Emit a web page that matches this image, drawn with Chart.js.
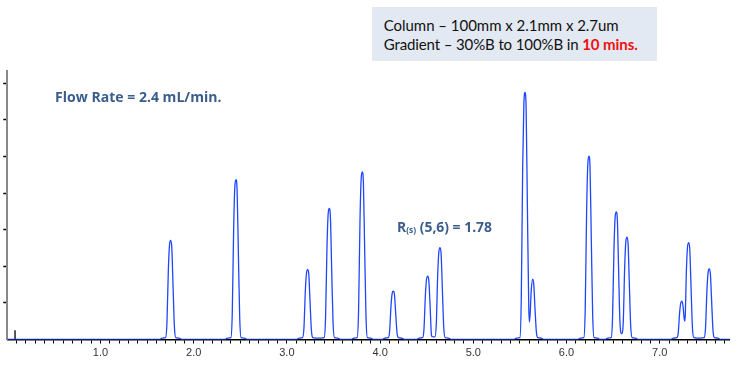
<!DOCTYPE html>
<html>
<head>
<meta charset="utf-8">
<script src="https://cdn.jsdelivr.net/npm/chart.js@4"></script>
<style>
  html, body { margin: 0; padding: 0; background: #fff; }
  #wrap { position: relative; width: 737px; height: 366px; overflow: hidden; }
  #c { position: absolute; left: 0; top: 0; }
  .note { position: absolute; white-space: nowrap; }
  #box { left: 372px; top: 7px; width: 285px; height: 54px; background: #e3e9f2; }
  #box div { position: absolute; left: 11.7px; font-family: Lato, "Open Sans", sans-serif; font-size: 15px; color: #111; line-height: 19px; white-space: nowrap; }
  .blue { font-family: "Open Sans", sans-serif; font-size: 14px; line-height: 18px; font-weight: bold; color: #3b5d8d; transform-origin: 0 50%; }
  #flow { left: 55px; top: 87.5px; }
  #rs { left: 396.7px; top: 217.5px; }
  #rs sub { font-size: 8.5px; vertical-align: -1px; }
  .red { color: #ee1111; font-weight: bold; }
</style>
</head>
<body>
<div id="wrap">
  <canvas id="c" width="737" height="366"></canvas>
  <div id="box" class="note">
    <div id="l1" style="top:8.5px">Column – 100mm x 2.1mm x 2.7um</div>
    <div style="top:27.5px"><span id="l2a">Gradient – 30%B to 100%B in </span><span id="l2b" class="red">10 mins.</span></div>
  </div>
  <div id="flow" class="note blue">Flow Rate = 2.4 mL/min.</div>
  <div id="rs" class="note blue">R<sub>(s)</sub> (5,6) = 1.78</div>
</div>
<script>
// Retention time (min) of trace points
const traceTime = [
  0.00, 1.633, 1.663, 1.698, 1.713, 1.728, 1.741, 1.753, 1.765, 1.778, 1.793, 1.808, 1.843, 1.873,
  2.334, 2.364, 2.399, 2.414, 2.429, 2.442, 2.454, 2.466, 2.479, 2.494, 2.509, 2.544, 2.574,
  3.103, 3.133, 3.168, 3.183, 3.198, 3.211, 3.223, 3.235, 3.248, 3.263, 3.278, 3.313,
  3.365, 3.400, 3.415, 3.430, 3.443, 3.455, 3.467, 3.480, 3.495, 3.510, 3.545, 3.575,
  3.689, 3.719, 3.754, 3.769, 3.784, 3.797, 3.809, 3.821, 3.834, 3.849, 3.864, 3.899, 3.929,
  4.022, 4.052, 4.087, 4.102, 4.117, 4.130, 4.142, 4.154, 4.167, 4.182, 4.197, 4.232, 4.262,
  4.391, 4.421, 4.456, 4.471, 4.486, 4.499, 4.511, 4.523, 4.536, 4.551, 4.558, 4.573, 4.588,
  4.603, 4.618, 4.631, 4.643, 4.655, 4.668, 4.683, 4.698, 4.733, 4.763,
  5.435, 5.465, 5.500, 5.515, 5.530, 5.543, 5.555, 5.567, 5.580, 5.595, 5.602, 5.610, 5.622,
  5.637, 5.649, 5.662, 5.677, 5.692, 5.727, 5.757,
  6.121, 6.151, 6.186, 6.201, 6.216, 6.229, 6.241, 6.253, 6.266, 6.281, 6.296, 6.331, 6.361,
  6.414, 6.444, 6.479, 6.494, 6.509, 6.522, 6.534, 6.546, 6.559, 6.574, 6.592, 6.609, 6.624,
  6.637, 6.649, 6.661, 6.674, 6.689, 6.704, 6.739, 6.769,
  7.119, 7.149, 7.184, 7.199, 7.214, 7.227, 7.239, 7.251, 7.262, 7.268, 7.275, 7.286, 7.299,
  7.311, 7.323, 7.336, 7.351, 7.366, 7.400, 7.440, 7.477, 7.492, 7.507, 7.520, 7.532, 7.544,
  7.557, 7.572, 7.587, 7.622, 7.652, 7.75
];
// Detector signal (arbitrary units) at those times
const traceSignal = [
  0.00, 0.00, 0.04, 0.05, 0.46, 1.90, 2.60, 2.71, 2.52, 1.49, 0.35, 0.05, 0.04, 0.00,
  0.00, 0.04, 0.05, 0.74, 3.06, 4.20, 4.37, 4.06, 2.40, 0.57, 0.05, 0.04, 0.00,
  0.00, 0.04, 0.05, 0.32, 1.34, 1.83, 1.91, 1.78, 1.05, 0.25, 0.05, 0.04,
  0.04, 0.05, 0.61, 2.51, 3.44, 3.58, 3.33, 1.97, 0.47, 0.05, 0.04, 0.00,
  0.00, 0.04, 0.05, 0.78, 3.21, 4.40, 4.58, 4.26, 2.52, 0.60, 0.05, 0.04, 0.00,
  0.00, 0.04, 0.05, 0.22, 0.92, 1.27, 1.32, 1.23, 0.73, 0.17, 0.05, 0.04, 0.00,
  0.00, 0.04, 0.05, 0.29, 1.21, 1.66, 1.73, 1.61, 0.95, 0.12, 0.08, 0.07, 0.07,
  0.43, 1.76, 2.41, 2.51, 2.33, 1.38, 0.33, 0.05, 0.04, 0.00,
  0.00, 0.04, 0.05, 1.15, 4.73, 6.48, 6.75, 6.28, 3.71, 0.90, 0.48, 0.70, 1.35,
  1.65, 1.50, 0.85, 0.20, 0.05, 0.04, 0.00,
  0.00, 0.04, 0.05, 0.85, 3.51, 4.81, 5.01, 4.66, 2.76, 0.65, 0.05, 0.04, 0.00,
  0.00, 0.04, 0.05, 0.59, 2.44, 3.35, 3.49, 3.25, 1.92, 0.45, 0.16, 0.48, 1.96,
  2.69, 2.80, 2.60, 1.54, 0.36, 0.05, 0.04, 0.00,
  0.00, 0.04, 0.05, 0.18, 0.74, 1.01, 1.05, 0.90, 0.58, 0.50, 0.70, 1.85, 2.54,
  2.65, 2.46, 1.46, 0.34, 0.05, 0.04, 0.04, 0.05, 0.33, 1.35, 1.85, 1.93, 1.79,
  1.06, 0.25, 0.05, 0.04, 0.00, 0.00
];
// Injection marker
const markerTime = [0.083, 0.083];
const markerSignal = [0.00, 0.25];
// Axis ranges and ticks
const xMin = 0, xMax = 7.75;
const xMinorStep = 0.1, xMinorCount = 77;          // minor ticks 0.1 … 7.7
const xTickLabels = ['1.0', '2.0', '3.0', '4.0', '5.0', '6.0', '7.0'];
const yMin = 0, yMax = 7.34;
const yTickValues = [1, 2, 3, 4, 5, 6, 7];

// Fit annotation text widths to the reference (styling only)
function fitSpacing(id, w) {
  const el = document.getElementById(id);
  const n = el.textContent.length;
  const cur = el.getBoundingClientRect().width;
  el.style.letterSpacing = ((w - cur) / n) + 'px';
}
function fitScale(id, w) {
  const el = document.getElementById(id);
  const cur = el.getBoundingClientRect().width;
  el.style.transform = 'scaleX(' + (w / cur) + ')';
}
fitSpacing('l1', 235);
fitSpacing('l2a', 198.5);
fitSpacing('l2b', 55.5);
fitScale('flow', 166.5);
fitScale('rs', 95);

const toXY = (xs, ys) => xs.map((x, i) => ({ x: x, y: ys[i] }));
const xTickValues = Array.from({ length: xMinorCount }, (_, i) => Math.round((i + 1) * xMinorStep * 10) / 10);

new Chart(document.getElementById('c'), {
  type: 'line',
  data: {
    datasets: [
      {
        data: toXY(traceTime, traceSignal),
        borderColor: '#1f46ff',
        borderWidth: 1.3,
        pointRadius: 0,
        cubicInterpolationMode: 'monotone',
        fill: false
      },
      {
        data: toXY(markerTime, markerSignal),
        borderColor: '#000',
        borderWidth: 1.3,
        pointRadius: 0,
        fill: false
      }
    ]
  },
  options: {
    responsive: false,
    animation: false,
    events: [],
    layout: { padding: { left: 3.3, right: 7.4, top: 70.9, bottom: 3.3 } },
    plugins: { legend: { display: false }, tooltip: { enabled: false } },
    scales: {
      x: {
        type: 'linear',
        min: xMin, max: xMax,
        z: 1,
        afterBuildTicks: (scale) => { scale.ticks = xTickValues.map(v => ({ value: v })); },
        border: { display: true, color: '#000', width: 1.5 },
        grid: { drawOnChartArea: false, drawTicks: true, tickLength: 4, color: '#000', tickWidth: 1 },
        ticks: {
          autoSkip: false,
          maxRotation: 0,
          minRotation: 0,
          padding: 3,
          color: '#333',
          font: { family: '"Liberation Sans", Arial, sans-serif', size: 11 },
          callback: (v) => { const s = Number(v).toFixed(1); return xTickLabels.includes(s) ? s : ''; }
        }
      },
      y: {
        type: 'linear',
        min: yMin, max: yMax,
        afterBuildTicks: (scale) => { scale.ticks = yTickValues.map(v => ({ value: v })); },
        border: { display: true, color: '#888', width: 2 },
        grid: { drawOnChartArea: false, drawTicks: true, tickLength: 4, color: '#000', tickWidth: 1.5 },
        ticks: { display: false }
      }
    }
  }
});
</script>
</body>
</html>
